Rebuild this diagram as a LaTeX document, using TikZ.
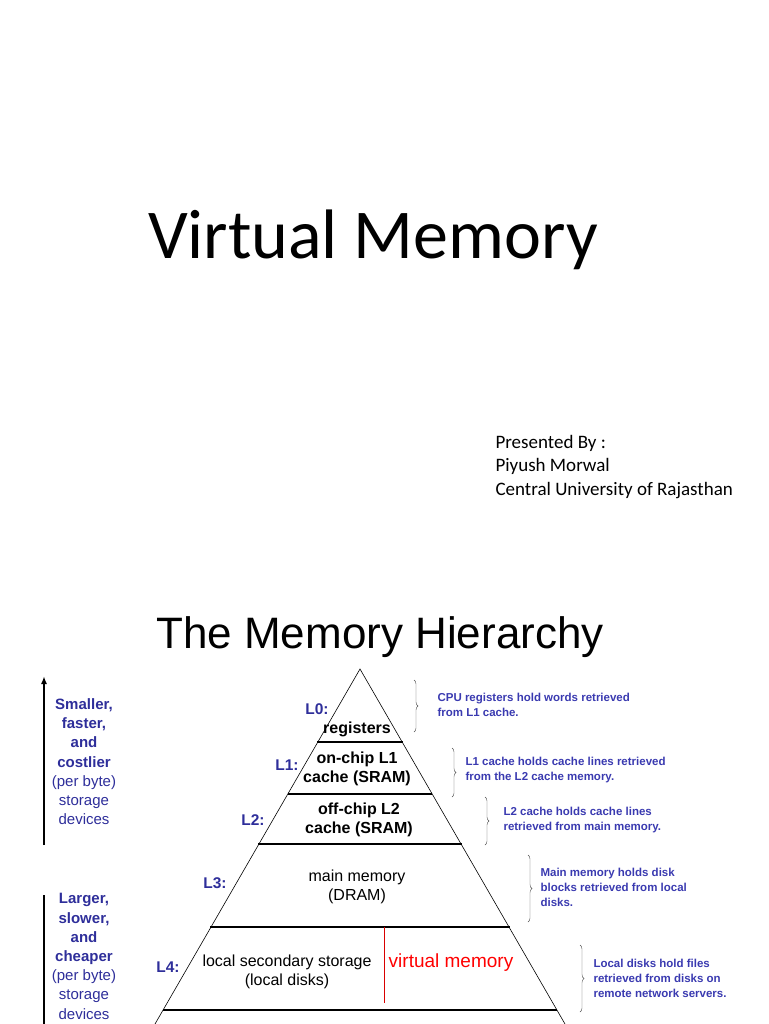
\documentclass[tikz,border=0pt]{standalone}
\usepackage{fontspec}
\setmainfont{Carlito}
\newfontfamily\arialf{Liberation Sans}
\usetikzlibrary{decorations.pathreplacing,arrows.meta}
\definecolor{dblue}{HTML}{2E2E9A}
\definecolor{lblue}{HTML}{3A3AB0}
\tikzset{
 lvl/.style={font=\arialf\bfseries\fontsize{15.5}{16}\selectfont,text=dblue},
 box/.style={font=\arialf\fontsize{16}{19.5}\selectfont,align=center},
 desc/.style={font=\arialf\bfseries\fontsize{11.5}{15}\selectfont,text=lblue,align=left,anchor=west},
 side/.style={font=\arialf\fontsize{15}{19.2}\selectfont,text=dblue,align=center},
 sep/.style={line width=2.2pt},
 brace/.style={decorate,decoration={brace,amplitude=4pt},thin,black!70},
}
\begin{document}
\begin{tikzpicture}[x=1pt,y=-1pt]
\useasboundingbox (0,0) rectangle (768,1024);
\node (title) at (373,240) {\fontsize{70}{78}\selectfont Virtual Memory};
\node[anchor=north west,align=left,font=\fontsize{19}{23.2}\selectfont] (pres) at (492,432) {Presented By :\\Piyush Morwal\\Central University of Rajasthan};
\node (mh) at (380,637) {\arialf\fontsize{44}{50}\selectfont The Memory Hierarchy};
% pyramid
\coordinate (apex) at (360,669);
\coordinate (bl) at (155,1024);
\coordinate (br) at (565,1024);
\draw[semithick] (bl) -- (apex) -- (br);
\coordinate (a1) at (317,742); \coordinate (b1) at (403,742);
\coordinate (a2) at (288,794); \coordinate (b2) at (432,794);
\coordinate (a3) at (258,844); \coordinate (b3) at (462,844);
\coordinate (a4) at (210,927); \coordinate (b4) at (510,927);
\coordinate (a5) at (163,1010); \coordinate (b5) at (557,1010);
\foreach \i in {1,...,5} \draw[sep] (a\i) -- (b\i);
\coordinate (r1) at (384,927); \coordinate (r2) at (384,1003);
\draw[red!85!black,thick] (r1) -- (r2);
% level labels
\node[lvl] (l0) at (317,709) {L0:};
\node[lvl] (l1) at (287,765) {L1:};
\node[lvl] (l2) at (253,820) {L2:};
\node[lvl] (l3) at (215,883) {L3:};
\node[lvl] (l4) at (168,967) {L4:};
\node[box] (reg) at (357,729) {\bfseries registers};
\node[box] (c1) at (357,769) {\bfseries on-chip L1\\\bfseries cache (SRAM)};
\node[box] (c2) at (359,820) {\bfseries off-chip L2\\\bfseries cache (SRAM)};
\node[box] (mm) at (357,887) {main memory\\(DRAM)};
\node[box] (ld) at (287,972) {local secondary storage\\(local disks)};
\node[box,text=red,font=\arialf\fontsize{19}{20}\selectfont] (vm) at (451,963) {virtual memory};
% braces
\draw[brace] (414,680) -- (414,732);
\draw[brace] (452,748) -- (452,797);
\draw[brace] (485,797) -- (485,845);
\draw[brace] (528,855) -- (528,922);
\draw[brace] (580,945) -- (580,1012);
\node[desc] (d0) at (434,705) {CPU registers hold words retrieved\\from L1 cache.};
\node[desc] (d1) at (462,770) {L1 cache holds cache lines retrieved\\from the L2 cache memory.};
\node[desc] (d2) at (500,820) {L2 cache holds cache lines\\retrieved from main memory.};
\node[desc] (d3) at (537,887) {Main memory holds disk\\blocks retrieved from local\\disks.};
\node[desc] (d4) at (590,978) {Local disks hold files\\retrieved from disks on\\remote network servers.};
% left side
\coordinate (u1) at (44,845); \coordinate (u2) at (44,676);
\draw[line width=1.8pt,-{Latex[length=8pt,width=6pt]}] (u1) -- (u2);
\coordinate (w1) at (44,895); \coordinate (w2) at (44,1024);
\draw[line width=1.8pt] (w1) -- (w2);
\node[side,anchor=north] (s1) at (84,695) {\bfseries Smaller,\\\bfseries faster,\\\bfseries and\\\bfseries costlier\\(per byte)\\storage\\devices};
\node[side,anchor=north] (s2) at (84,890) {\bfseries Larger,\\\bfseries slower,\\\bfseries and\\\bfseries cheaper\\(per byte)\\storage\\devices};
\end{tikzpicture}
\end{document}
